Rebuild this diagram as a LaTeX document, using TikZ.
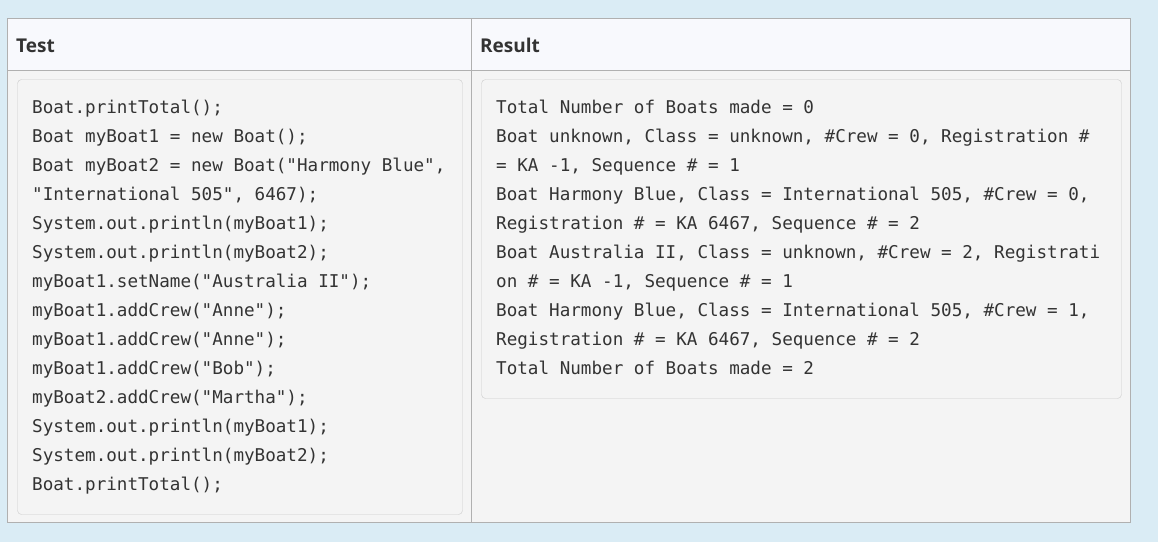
\documentclass[tikz,border=0pt]{standalone}
\usepackage{fontspec}
\setmainfont{Open Sans}
\setmonofont{DejaVu Sans Mono}
\definecolor{bg}{HTML}{DAECF5}
\definecolor{hdr}{HTML}{F8F9FD}
\definecolor{body}{HTML}{F4F4F4}
\definecolor{tb}{HTML}{B0B0B0}
\definecolor{cb}{HTML}{CCCCCC}
\definecolor{txt}{HTML}{333333}
\begin{document}
\begin{tikzpicture}[x=1pt,y=-1pt,
  hd/.style={anchor=base west,inner sep=0,font=\fontsize{19}{22}\selectfont\bfseries,text=txt},
  cl/.style={anchor=base west,inner sep=0,font=\fontsize{17.6}{20}\selectfont\ttfamily,text=txt}]
\fill[bg] (0,0) rectangle (1158,542);
\useasboundingbox (0,0) rectangle (1158,542);
\fill[hdr] (7,18) rectangle (1130,70);
\fill[body] (7,70) rectangle (1130,522);
\draw[tb] (7.5,18.5) rectangle (1130.5,522.5);
\draw[tb] (7.5,70.5) -- (1130.5,70.5);
\draw[tb] (471.5,18.5) -- (471.5,522.5);
\draw[cb,rounded corners=4,fill=body] (17.5,79.5) rectangle (462.5,514.5);
\draw[cb,rounded corners=4,fill=body] (481.5,79.5) rectangle (1121.5,398.5);
\node[hd] (h1) at (16,52) {Test};
\node[hd] (h2) at (480,52) {Result};
\foreach \t [count=\i from 0] in {
 {Boat.printTotal();},
 {Boat myBoat1 = new Boat();},
 {Boat myBoat2 = new Boat("Harmony Blue",},
 {"International 505", 6467);},
 {System.out.println(myBoat1);},
 {System.out.println(myBoat2);},
 {myBoat1.setName("Australia II");},
 {myBoat1.addCrew("Anne");},
 {myBoat1.addCrew("Anne");},
 {myBoat1.addCrew("Bob");},
 {myBoat2.addCrew("Martha");},
 {System.out.println(myBoat1);},
 {System.out.println(myBoat2);},
 {Boat.printTotal();}}
 \node[cl] (l\i) at (32,{113+29*\i}) {\t};
\foreach \t [count=\i from 0] in {
 {Total Number of Boats made = 0},
 {Boat unknown, Class = unknown, \#Crew = 0, Registration \#},
 {= KA -1, Sequence \# = 1},
 {Boat Harmony Blue, Class = International 505, \#Crew = 0,},
 {Registration \# = KA 6467, Sequence \# = 2},
 {Boat Australia II, Class = unknown, \#Crew = 2, Registrati},
 {on \# = KA -1, Sequence \# = 1},
 {Boat Harmony Blue, Class = International 505, \#Crew = 1,},
 {Registration \# = KA 6467, Sequence \# = 2},
 {Total Number of Boats made = 2}}
 \node[cl] (r\i) at (496,{113+29*\i}) {\t};
\end{tikzpicture}
\end{document}
